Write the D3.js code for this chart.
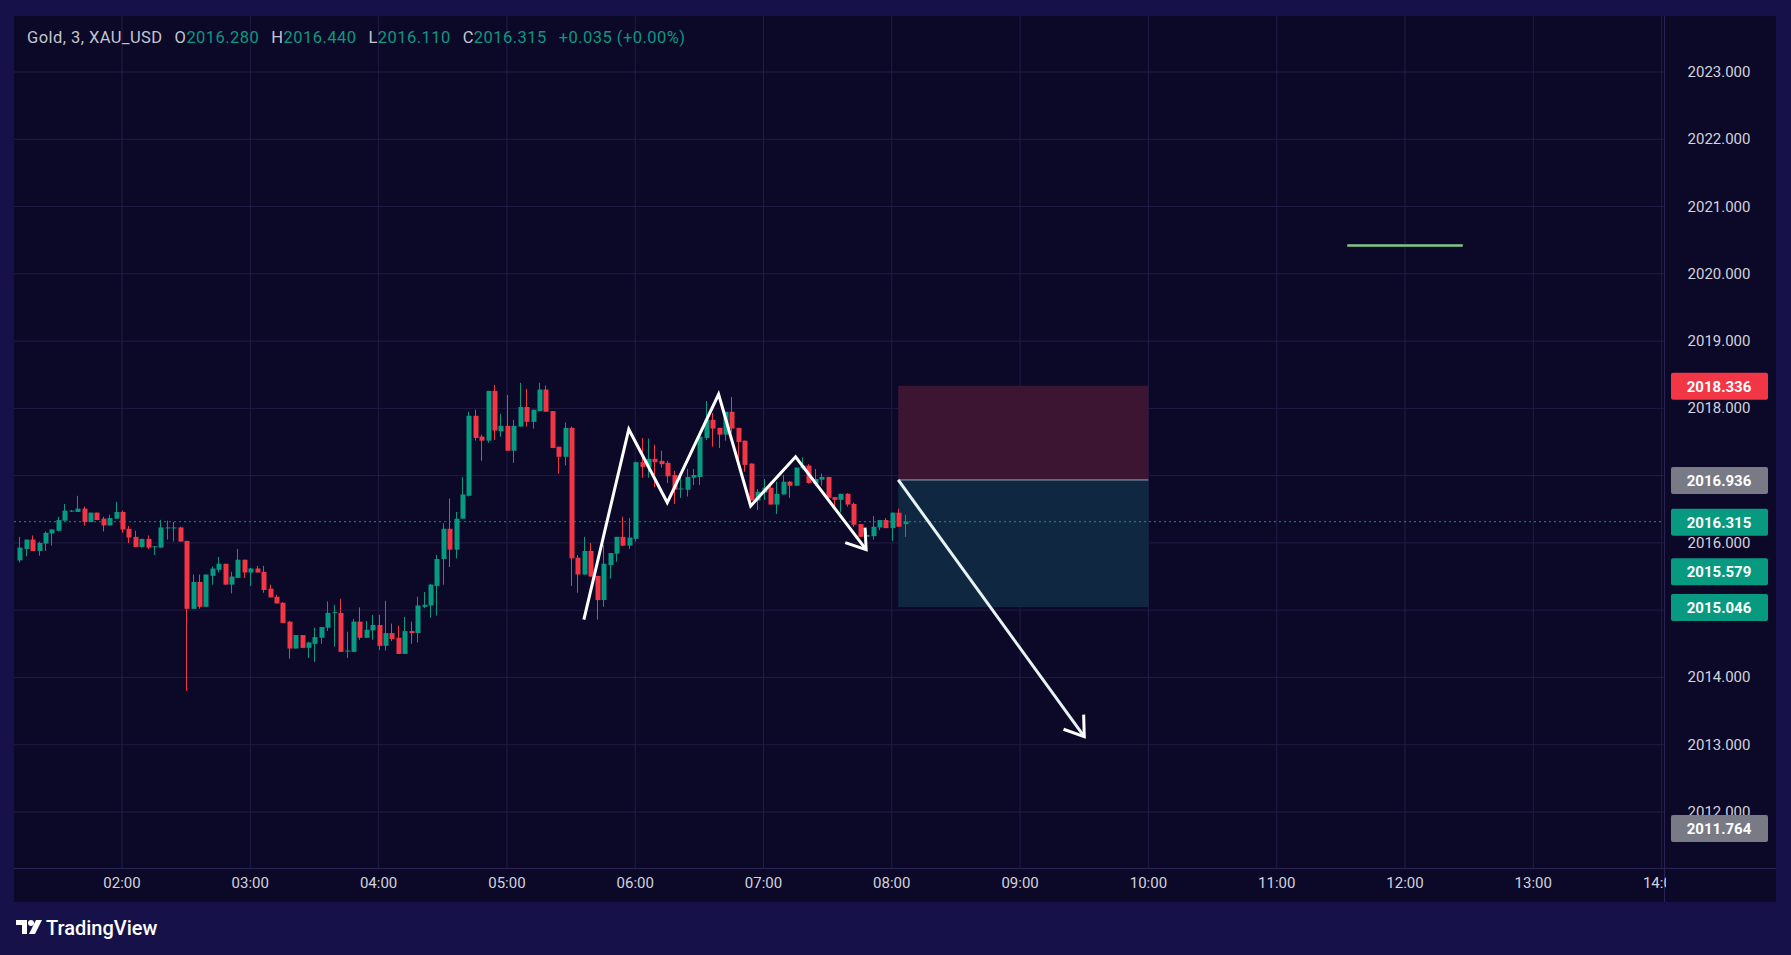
<!DOCTYPE html>
<html><head><meta charset="utf-8">
<script src="https://cdn.jsdelivr.net/npm/d3@7/dist/d3.min.js"></script>
<style>
html,body{margin:0;padding:0;background:#17114a;overflow:hidden}
svg{display:block}
text{font-family:"Roboto","Noto Sans",sans-serif}
</style></head><body>
<svg id="c" width="1791" height="955"></svg>
<script>
// ---- data (3-minute candles, first at 01:12) ----
const opens=[2015.74,2015.91,2016.05,2015.88,2015.99,2016.14,2016.18,2016.33,2016.47,2016.46,2016.51,2016.31,2016.45,2016.36,2016.26,2016.36,2016.46,2016.21,2016.09,2015.94,2016.06,2015.94,2015.93,2016.22,2016.23,2016.23,2016.03,2015.02,2015.42,2015.05,2015.51,2015.60,2015.69,2015.38,2015.48,2015.75,2015.56,2015.62,2015.57,2015.32,
2015.20,2015.11,2014.83,2014.43,2014.63,2014.44,2014.50,2014.59,2014.74,2014.96,2014.96,2014.39,2014.38,2014.83,2014.59,2014.70,2014.78,2014.47,2014.66,2014.59,2014.35,2014.69,2014.66,2015.05,2015.07,2015.36,2015.76,2016.21,2015.90,2016.36,2016.70,2017.89,2017.58,2017.52,2018.26,2017.66,2017.74,2017.37,2017.73,2018.02,
2017.80,2017.96,2018.28,2017.96,2017.43,2017.28,2017.71,2015.78,2015.53,2015.88,2015.51,2015.15,2015.67,2015.84,2016.09,2015.96,2016.06,2017.20,2017.13,2017.25,2017.22,2017.19,2017.01,2016.80,2016.79,2016.97,2016.98,2017.56,2017.83,2017.71,2017.61,2017.95,2017.71,2017.52,2017.18,2016.63,2016.75,2016.82,2016.57,2016.72,2016.91,2016.85,2017.11,2017.15,2016.88,2016.94,2016.98,2016.68,2016.64,2016.73,2016.58,2016.28,2016.09,2016.10,2016.23,2016.34,2016.22,2016.45,2016.28];
const highs=[2016.09,2016.05,2016.11,2016.02,2016.17,2016.20,2016.39,2016.58,2016.49,2016.70,2016.54,2016.45,2016.45,2016.39,2016.42,2016.61,2016.48,2016.25,2016.18,2016.06,2016.11,2015.95,2016.34,2016.33,2016.31,2016.24,2016.03,2015.53,2015.53,2015.53,2015.65,2015.79,2015.69,2015.57,2015.91,2015.75,2015.63,2015.66,2015.66,2015.38,
2015.23,2015.12,2014.84,2014.63,2014.63,2014.53,2014.74,2014.75,2015.13,2015.08,2015.17,2014.68,2014.87,2015.04,2014.84,2014.93,2014.93,2015.14,2014.80,2014.77,2014.90,2014.83,2015.20,2015.27,2015.39,2015.82,2016.29,2016.66,2016.46,2016.98,2017.95,2017.98,2017.61,2018.26,2018.35,2017.92,2018.20,2017.83,2018.38,2018.29,
2017.98,2018.38,2018.34,2017.96,2017.43,2017.79,2017.73,2015.82,2016.09,2016.00,2015.51,2015.97,2015.85,2016.09,2016.39,2016.37,2017.21,2017.56,2017.55,2017.46,2017.37,2017.22,2017.07,2017.01,2017.10,2017.10,2017.58,2018.11,2017.93,2017.71,2017.95,2018.17,2017.71,2017.52,2017.18,2016.80,2016.95,2016.91,2016.91,2017.01,2016.92,2017.12,2017.27,2017.17,2017.10,2017.03,2016.98,2016.68,2016.73,2016.74,2016.60,2016.28,2016.19,2016.40,2016.34,2016.37,2016.45,2016.51,2016.42];
const lows=[2015.71,2015.80,2015.88,2015.81,2015.88,2015.96,2016.17,2016.33,2016.46,2016.46,2016.26,2016.31,2016.34,2016.17,2016.26,2016.36,2016.15,2016.00,2015.94,2015.93,2015.91,2015.82,2015.93,2016.05,2016.02,2016.02,2013.80,2015.02,2015.02,2015.05,2015.38,2015.56,2015.38,2015.25,2015.48,2015.48,2015.36,2015.56,2015.26,2015.19,
2015.10,2014.81,2014.28,2014.43,2014.44,2014.29,2014.23,2014.50,2014.69,2014.46,2014.38,2014.29,2014.38,2014.56,2014.59,2014.56,2014.41,2014.40,2014.54,2014.35,2014.35,2014.50,2014.52,2015.03,2014.89,2014.92,2015.38,2015.64,2015.77,2016.36,2016.69,2017.52,2017.22,2017.49,2017.53,2017.58,2017.37,2017.19,2017.73,2017.73,
2017.70,2017.96,2017.95,2017.41,2017.03,2017.15,2015.36,2015.26,2015.53,2015.50,2014.86,2015.05,2015.47,2015.72,2015.95,2015.91,2016.02,2016.97,2016.97,2016.83,2017.12,2016.89,2016.58,2016.67,2016.69,2016.86,2016.86,2017.53,2017.43,2017.41,2017.52,2017.64,2017.25,2017.06,2016.63,2016.49,2016.64,2016.57,2016.43,2016.72,2016.67,2016.85,2017.09,2016.88,2016.85,2016.85,2016.67,2016.49,2016.45,2016.54,2016.24,2016.09,2016.05,2016.05,2016.19,2016.22,2016.03,2016.24,2016.09];
const closes=[2015.93,2016.05,2015.88,2016.00,2016.15,2016.20,2016.34,2016.48,2016.48,2016.51,2016.31,2016.45,2016.34,2016.26,2016.37,2016.46,2016.20,2016.08,2015.94,2016.06,2015.93,2015.95,2016.23,2016.23,2016.23,2016.02,2015.02,2015.42,2015.05,2015.53,2015.62,2015.69,2015.38,2015.50,2015.75,2015.56,2015.62,2015.56,2015.30,2015.19,
2015.10,2014.81,2014.43,2014.63,2014.44,2014.52,2014.60,2014.75,2014.96,2014.97,2014.38,2014.40,2014.83,2014.59,2014.71,2014.78,2014.47,2014.66,2014.57,2014.35,2014.69,2014.66,2015.07,2015.08,2015.38,2015.76,2016.21,2015.90,2016.36,2016.72,2017.89,2017.56,2017.52,2018.26,2017.67,2017.74,2017.37,2017.74,2018.02,2017.80,
2017.98,2018.28,2017.95,2017.41,2017.28,2017.71,2015.77,2015.53,2015.88,2015.50,2015.15,2015.69,2015.85,2016.09,2015.96,2016.08,2017.20,2017.13,2017.25,2017.20,2017.17,2016.99,2016.79,2016.81,2016.98,2017.01,2017.58,2017.83,2017.70,2017.61,2017.95,2017.70,2017.50,2017.16,2016.63,2016.76,2016.82,2016.57,2016.73,2016.91,2016.85,2017.12,2017.15,2016.89,2016.95,2016.98,2016.67,2016.64,2016.73,2016.57,2016.27,2016.09,2016.12,2016.24,2016.34,2016.22,2016.45,2016.24,2016.32];
const firstCandle="01:12", candleMinutes=3;
const priceTicks=[2012,2013,2014,2015,2016,2017,2018,2019,2020,2021,2022,2023];
const timeTicks=["02:00","03:00","04:00","05:00","06:00","07:00","08:00","09:00","10:00","11:00","12:00","13:00","14:00"];
const badges=[{v:2018.336,c:"#f23645"},{v:2016.936,c:"#787b86"},{v:2016.315,c:"#089981"},{v:2015.579,c:"#089981"},{v:2015.046,c:"#089981"},{v:2011.764,c:"#787b86"}];
const zigTimes=["05:36","05:57","06:15","06:39","06:54","07:15","07:48"];
const zigPrices=[2014.86,2017.69,2016.60,2018.21,2016.55,2017.28,2015.90];
const arrowTimes=["08:03","09:30"], arrowPrices=[2016.936,2013.12];
const posTimes=["08:03","10:00"], posStop=2018.336, posEntry=2016.936, posTarget=2015.046;
const hLineTimes=["11:33","12:27"], hLinePrice=2020.42;
const title=[["Gold, 3, XAU_USD","#c3c6d0",0],["O","#c3c6d0",12],["2016.280","#089981",0],["H","#c3c6d0",12],["2016.440","#089981",0],["L","#c3c6d0",12],["2016.110","#089981",0],["C","#c3c6d0",12],["2016.315","#089981",0],["+0.035 (+0.00%)","#089981",12]];

// ---- layout ----
const svg=d3.select("#c");
const pane={l:14,t:16,r:1664,b:868}, outer={r:1776,b:902};
const parseT=d3.timeParse("%H:%M");
const t0=parseT("02:00");
const x=d3.scaleTime().domain([t0,d3.timeHour.offset(t0,1)]).range([122,250.3]);
const y=d3.scaleLinear().domain([2012,2023]).range([812,72]);
const candles=opens.map((o,i)=>({t:d3.timeMinute.offset(parseT(firstCandle),i*candleMinutes),o,h:highs[i],l:lows[i],c:closes[i]}));

svg.append("rect").attr("width",1791).attr("height",955).attr("fill","#17114a");
svg.append("rect").attr("x",pane.l).attr("y",pane.t).attr("width",outer.r-pane.l).attr("height",outer.b-pane.t).attr("fill","#0c0828");
const defs=svg.append("defs");
defs.append("clipPath").attr("id","cp").append("rect").attr("x",pane.l).attr("y",pane.t).attr("width",pane.r-pane.l).attr("height",pane.b-pane.t);
defs.append("clipPath").attr("id","cp2").append("rect").attr("x",pane.l).attr("y",pane.b).attr("width",pane.r-pane.l+2).attr("height",40);
const g=svg.append("g").attr("clip-path","url(#cp)");

// grid
g.selectAll(".hg").data(priceTicks).join("line").attr("x1",pane.l).attr("x2",pane.r).attr("y1",d=>y(d)).attr("y2",d=>y(d)).attr("stroke","#221c45").attr("stroke-width",1);
g.selectAll(".vg").data(timeTicks).join("line").attr("y1",pane.t).attr("y2",pane.b).attr("x1",d=>x(parseT(d))).attr("x2",d=>x(parseT(d))).attr("stroke","#221c45").attr("stroke-width",1);

// position tool
const px0=x(parseT(posTimes[0])), px1=x(parseT(posTimes[1]));
g.append("rect").attr("x",px0).attr("width",px1-px0).attr("y",y(posStop)).attr("height",y(posEntry)-y(posStop)).attr("fill","#3b1532");
g.append("rect").attr("x",px0).attr("width",px1-px0).attr("y",y(posEntry)).attr("height",y(posTarget)-y(posEntry)).attr("fill","#0f2740");
g.append("line").attr("x1",px0).attr("x2",px1).attr("y1",y(posEntry)).attr("y2",y(posEntry)).attr("stroke","#9aa0b0").attr("stroke-width",1);

// close dotted line
g.append("line").attr("x1",pane.l).attr("x2",pane.r).attr("y1",y(2016.315)).attr("y2",y(2016.315)).attr("stroke","#089981").attr("stroke-width",1).attr("stroke-dasharray","2,3");

// candles
const bw=4;
const cg=g.selectAll(".cd").data(candles).join("g");
cg.append("line").attr("x1",d=>Math.round(x(d.t))+0.5).attr("x2",d=>Math.round(x(d.t))+0.5).attr("y1",d=>y(d.h)).attr("y2",d=>y(d.l)).attr("stroke",d=>d.c>=d.o?"#089981":"#f23645").attr("stroke-width",1);
cg.append("rect").attr("x",d=>Math.round(x(d.t))-bw/2+0.5).attr("width",bw+1).attr("y",d=>y(Math.max(d.o,d.c))).attr("height",d=>Math.max(1,Math.abs(y(d.o)-y(d.c)))).attr("fill",d=>d.c>=d.o?"#089981":"#f23645");

// drawings
const line=d3.line().x(d=>x(parseT(d[0]))).y(d=>y(d[1]));
g.append("path").attr("d",line(zigTimes.map((t,i)=>[t,zigPrices[i]]))).attr("fill","none").attr("stroke","#ffffff").attr("stroke-width",3).attr("stroke-linejoin","miter");
g.append("path").attr("d",line(arrowTimes.map((t,i)=>[t,arrowPrices[i]]))).attr("fill","none").attr("stroke","#e8f4f4").attr("stroke-width",3);
function arrowHead(ta,pa,tb,pb){
  const x1=x(parseT(ta)),y1=y(pa),x2=x(parseT(tb)),y2=y(pb);
  const a=Math.atan2(y2-y1,x2-x1),L=22;
  const pts=[[x2+L*Math.cos(a+Math.PI-0.6),y2+L*Math.sin(a+Math.PI-0.6)],[x2,y2],[x2+L*Math.cos(a+Math.PI+0.6),y2+L*Math.sin(a+Math.PI+0.6)]];
  g.append("path").attr("d",d3.line()(pts)).attr("fill","none").attr("stroke","#ffffff").attr("stroke-width",3);
}
arrowHead(zigTimes[5],zigPrices[5],zigTimes[6],zigPrices[6]);
arrowHead(arrowTimes[0],arrowPrices[0],arrowTimes[1],arrowPrices[1]);
g.append("line").attr("x1",x(parseT(hLineTimes[0]))).attr("x2",x(parseT(hLineTimes[1]))).attr("y1",y(hLinePrice)).attr("y2",y(hLinePrice)).attr("stroke","#81c784").attr("stroke-width",2.5);

// axes separators
svg.append("line").attr("x1",pane.r+0.5).attr("x2",pane.r+0.5).attr("y1",pane.t).attr("y2",outer.b).attr("stroke","#2a2455");
svg.append("line").attr("x1",pane.l).attr("x2",outer.r).attr("y1",pane.b+0.5).attr("y2",pane.b+0.5).attr("stroke","#2a2455");

// price axis labels
svg.selectAll(".pl").data(priceTicks).join("text").attr("x",1719).attr("y",d=>y(d)+5).attr("text-anchor","middle").attr("font-size",15).attr("fill","#d1d4dc").text(d=>d3.format(".3f")(d));
// time labels
const tl=svg.append("g").attr("clip-path","url(#cp2)");
tl.selectAll("text").data(timeTicks).join("text").attr("x",d=>x(parseT(d))).attr("y",888).attr("text-anchor","middle").attr("font-size",15).attr("fill","#d1d4dc").text(d=>d);

// badges
const bgs=svg.selectAll(".bd").data(badges).join("g");
bgs.append("rect").attr("x",1671).attr("width",97).attr("y",d=>y(d.v)-13).attr("height",27).attr("rx",2).attr("fill",d=>d.c);
bgs.append("text").attr("x",1719).attr("y",d=>y(d.v)+6).attr("text-anchor","middle").attr("font-size",15).attr("font-weight","bold").attr("fill","#ffffff").text(d=>d3.format(".3f")(d.v));

// title
const tt=svg.append("text").attr("x",27).attr("y",43).attr("font-size",16.5).attr("textLength",658).attr("lengthAdjust","spacing");
title.forEach(([s,c,dx])=>tt.append("tspan").attr("fill",c).attr("dx",dx).text(s));

// TradingView logo
const lg=svg.append("g").attr("transform","translate(16,920)");
lg.append("path").attr("d","M0 0h11v14h-5v-9h-6z").attr("fill","#ffffff");
lg.append("circle").attr("cx",15).attr("cy",3).attr("r",3).attr("fill","#ffffff");
lg.append("path").attr("d","M20 0h6l-7 14h-6z").attr("fill","#ffffff");
svg.append("text").attr("x",46).attr("y",935).attr("font-size",20).attr("font-weight","500").attr("fill","#ffffff").text("TradingView");
</script></body></html>
